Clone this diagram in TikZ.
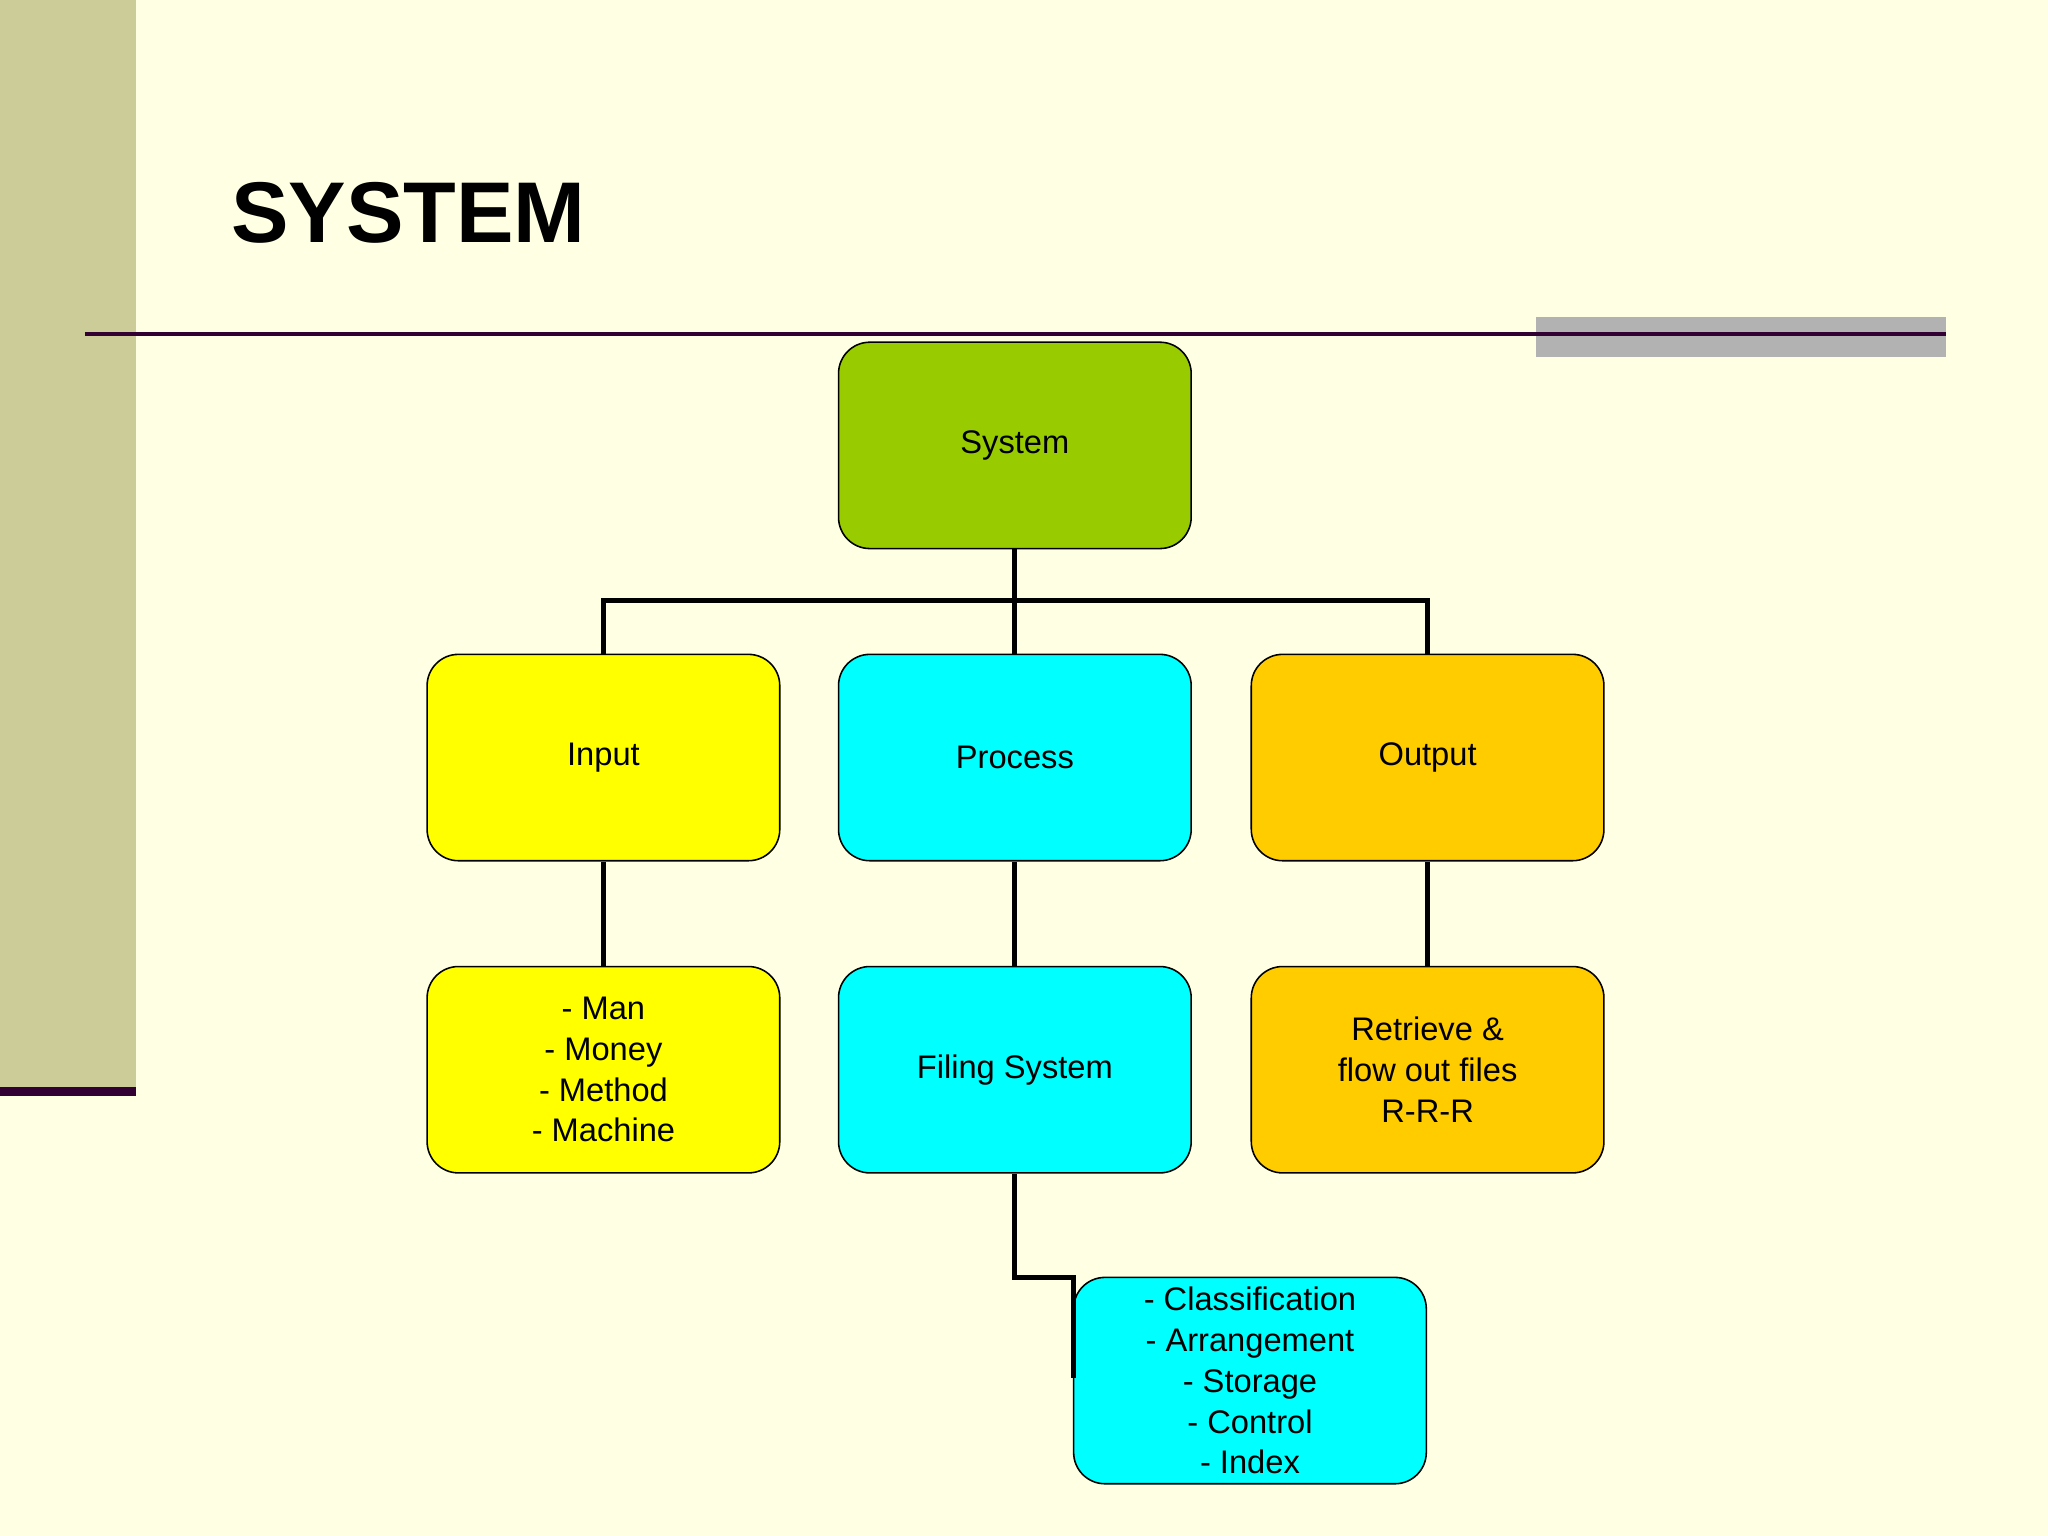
\documentclass[tikz,border=0pt]{standalone}
\usepackage{fontspec}
\setmainfont{Liberation Sans}
\definecolor{bg}{HTML}{FFFFE3}
\definecolor{side}{HTML}{CCCC99}
\definecolor{dk}{HTML}{330033}
\definecolor{grn}{HTML}{99CC00}
\definecolor{yel}{HTML}{FFFF00}
\definecolor{cya}{HTML}{00FFFF}
\definecolor{org}{HTML}{FFCC00}
\begin{document}
\begin{tikzpicture}[x=0.5pt,y=-0.5pt,
 box/.style={draw=black,line width=0.6pt,rounded corners=12pt,minimum width=135pt,minimum height=79pt,align=center,font=\fontsize{12.5}{15.6}\selectfont,inner sep=0pt},
 conn/.style={line width=2pt,draw=black}]
\fill[bg] (0,0) rectangle (1568,1176);
\useasboundingbox (0,0) rectangle (1568,1176);
\fill[side] (0,0) rectangle (104,835);
\fill[dk] (0,832) rectangle (104,839);
\fill[gray!60] (1176,243) rectangle (1490,273);
\draw[dk,line width=1.5pt] (65,256) -- (1490,256);
\node[anchor=west,font=\fontsize{33}{40}\selectfont\bfseries] (title) at (170,163) {SYSTEM};
\node[box,fill=grn] (sys) at (777,341) {System};
\node[box,fill=yel] (in) at (462,580) {Input};
\node[box,fill=cya] (pr) at (777,580) {Process};
\node[box,fill=org] (out) at (1093,580) {Output};
\node[box,fill=yel] (in2) at (462,819) {- Man\\- Money\\- Method\\- Machine};
\node[box,fill=cya] (pr2) at (777,819) {Filing System};
\node[box,fill=org] (out2) at (1093,819) {Retrieve \&\\flow out files\\R-R-R};
\node[box,fill=cya] (fs) at (957,1057) {- Classification\\- Arrangement\\- Storage\\- Control\\- Index};
\coordinate (j) at (777,460);
\coordinate (c1) at (822,978);
\coordinate (c2) at (822,1055);
\draw[conn] (sys.south) -- (j);
\draw[conn] (in.north) |- (j) -| (out.north);
\draw[conn] (j) -- (pr.north);
\draw[conn] (in.south) -- (in2.north);
\draw[conn] (pr.south) -- (pr2.north);
\draw[conn] (out.south) -- (out2.north);
\draw[conn] (pr2.south) |- (c1) -- (c2);
\end{tikzpicture}
\end{document}
